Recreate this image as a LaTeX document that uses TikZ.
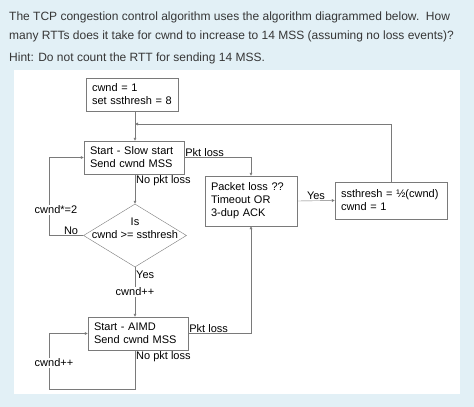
\documentclass[tikz,border=0pt]{standalone}
\usepackage{fontspec}
\setmainfont{Liberation Sans}
\usetikzlibrary{shapes.geometric,arrows.meta}
\definecolor{panelblue}{HTML}{E2F0F6}
\definecolor{qtext}{HTML}{363636}
\definecolor{flowline}{HTML}{7A7A7A}
\begin{document}
\begin{tikzpicture}[x=1pt,y=-1pt,
    box/.style={draw=flowline,rectangle,inner xsep=6pt,inner ysep=0pt,align=left,font=\fontsize{11}{13}\selectfont},
    flow/.style={draw=flowline,-{Latex[length=3pt,width=3pt]}},
    lbl/.style={font=\fontsize{11}{13}\selectfont,inner sep=1pt}]
    % page and panel
    \fill[panelblue] (0,0) rectangle (474,407);
    \fill[white] (14,70) rectangle (460,394);
    % question
    \node[anchor=base west,inner sep=0pt,text=qtext,font=\fontsize{12}{19}\selectfont] (question) at (9,20)
        {The TCP congestion control algorithm uses the algorithm diagrammed below.\ \ How};
    \node[anchor=base west,inner sep=0pt,text=qtext,font=\fontsize{12}{19}\selectfont] (question2) at (9,39)
        {many RTTs does it take for cwnd to increase to 14 MSS (assuming no loss events)?};
    \node[anchor=base west,inner sep=0pt,text=qtext,font=\fontsize{12}{19}\selectfont] (hint) at (9,61)
        {Hint: Do not count the RTT for sending 14 MSS.};
    % boxes
    \node[box,text width=80pt,minimum height=33pt] (init) at (132,94.5) {cwnd = 1\\set ssthresh = 8};
    \node[box,text width=88pt,minimum height=33pt] (slow) at (134,157.5) {Start - Slow start\\Send cwnd MSS};
    \node[box,text width=80pt,minimum height=50pt] (loss) at (251,201) {Packet loss ??\\Timeout OR\\3-dup ACK};
    \node[box,text width=100pt,minimum height=37pt] (reset) at (391,200.5) {ssthresh = ½(cwnd)\\cwnd = 1};
    \node[box,text width=88pt,minimum height=33pt] (aimd) at (138,333.5) {Start - AIMD\\Send cwnd MSS};
    \node[draw=flowline,diamond,minimum width=103pt,minimum height=63pt,inner sep=0pt] (test) at (135,235.5) {};
    \node[lbl,align=center] (testtxt) at (135,228) {Is\\cwnd >= ssthresh};
    \coordinate (back) at (135,124);
    % connectors
    \draw[flow] (init.south -| test.north) -- (slow.north -| test.north);
    \draw[flow] (reset.north) |- (back);
    \draw[flow] (slow.east) node[lbl,anchor=south west] {Pkt loss} -| (loss.north);
    \draw[flow] (loss.east) -- node[lbl,above] {Yes} (reset.west);
    \draw[flow] (slow.south -| test.north) node[lbl,anchor=north west] {No pkt loss} -- (test.north);
    \draw[flow] (test.west) node[lbl,anchor=south east,xshift=-4pt] {No} -- ++(-34,0) |- (slow.west);
    \node[lbl,fill=white] (dbl) at (56,210) {cwnd*=2};
    \draw[flow] (test.south) -- node[pos=0.16,lbl,right] {Yes}
        node[lbl,fill=white] (inc) {cwnd++} (aimd.north -| test.south);
    \draw[flow] (aimd.east) node[lbl,anchor=south west] {Pkt loss} -| (loss.south);
    \draw[flow] (aimd.south -| test.south) node[lbl,anchor=north west] {No pkt loss}
        -- ++(0,39) -- ++(-86,0) |- (aimd.west);
    \node[lbl,fill=white] (inc2) at (54,363) {cwnd++};
\end{tikzpicture}
\end{document}
